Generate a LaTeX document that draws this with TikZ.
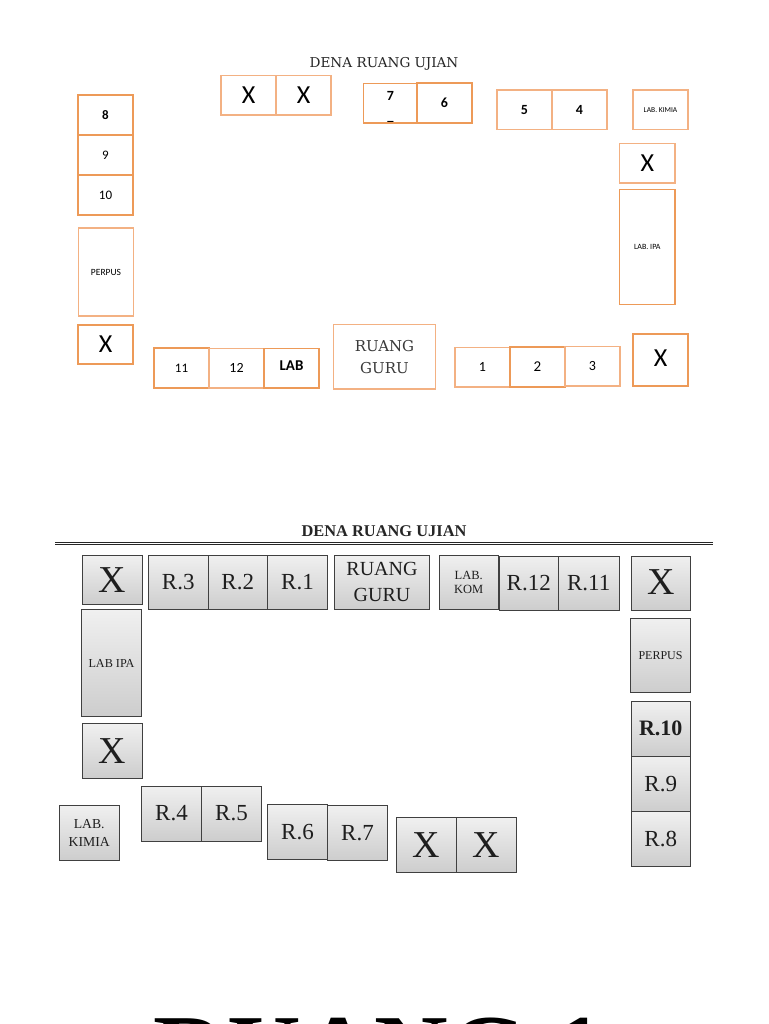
\documentclass[tikz,border=0pt]{standalone}
\usepackage{fontspec}
\setmainfont{Liberation Serif}
\newfontfamily\calibfont{Carlito}
\newfontfamily\slabfont{DejaVu Serif}
\definecolor{orangeA}{HTML}{ED9A58}
\definecolor{orangeB}{HTML}{F3B183}
\definecolor{edgeG}{HTML}{404040}
\definecolor{inkG}{HTML}{1E1E1E}
\definecolor{greyTop}{HTML}{F0F0F0}
\definecolor{greyBot}{HTML}{CDCDCD}
\definecolor{slabInk}{HTML}{3A3A3A}
\tikzset{
  boxbase/.style={rectangle,inner sep=0pt,outer sep=0pt,align=center},
  thick orange/.style={boxbase,draw=orangeA,line width=1.4pt,font=\calibfont,text=black},
  thin orange/.style={boxbase,draw=orangeB,line width=1.1pt,font=\calibfont,text=black},
  grey room/.style={boxbase,draw=edgeG,line width=0.9pt,top color=greyTop,bottom color=greyBot,text=inkG},
}
\newcommand{\room}[7]{%
  \pgfmathsetmacro{\rw}{#4-#2}\pgfmathsetmacro{\rh}{#5-#3}%
  \node[#6,minimum width=\rw pt,minimum height=\rh pt] (#1) at ({(#2+#4)/2},{(#3+#5)/2}) {#7};}
\newcommand{\fs}[1]{\fontsize{#1}{#1}\selectfont}
\begin{document}
\begin{tikzpicture}[x=1pt,y=-1pt]
\useasboundingbox (0,0) rectangle (768,1024);
\clip (0,0) rectangle (768,1024);
\fill[white] (0,0) rectangle (768,1024);
% upper plan
\node[font=\slabfont\fs{13.6},text=black!85] (title1) at (384,64) {DENA RUANG UJIAN};
\room{a8}{78}{95}{133}{135}{thick orange}{\fs{13}\bfseries 8}
\room{a9}{78}{135}{133}{175}{thick orange}{\fs{13}9}
\room{a10}{78}{175}{133}{215}{thick orange}{\fs{13}10}
\room{aperp}{78.5}{228}{133.5}{316}{thin orange}{\fs{9.5}PERPUS}
\room{ax1}{78}{325}{133}{364}{thick orange}{\fs{26}X}
\room{ax2}{221}{75.5}{276}{115}{thin orange}{\fs{26}X}
\room{ax3}{276}{75.5}{331}{115}{thin orange}{\fs{26}X}
\begin{scope}
\clip (363.5,83.5) rectangle (417,123);
\node[font=\calibfont\fs{14}\bfseries,inner sep=0pt] (a7b) at (390.5,96) {7};
\node[font=\calibfont\fs{14}\bfseries,inner sep=0pt,anchor=base] (a7c) at (390.5,131) {7};
\end{scope}
\room{a7}{363.5}{83.5}{417}{123}{thick orange}{}
\room{a6}{417}{83}{472}{123}{thick orange}{\fs{14}\bfseries 6}
\room{a5}{497}{90}{552}{129.5}{thin orange}{\fs{14}\bfseries 5}
\room{a4}{552}{90}{607}{129.5}{thin orange}{\fs{14}\bfseries 4}
\room{akim}{633}{90}{688}{129.5}{thin orange}{\fs{7.5}LAB. KIMIA}
\room{ax4}{619.5}{143.5}{675}{183}{thin orange}{\fs{26}X}
\room{aipa}{619.5}{189.5}{675}{304.5}{thick orange}{\fs{8}LAB. IPA}
\room{ax5}{633}{334}{688}{386}{thick orange}{\raisebox{3pt}{\fs{26}X}}
\room{a1}{455}{347.5}{510}{387}{thin orange}{\fs{14}1}
\room{a2}{510}{347}{565}{387}{thick orange}{\fs{15}2}
\room{a3}{565}{346.5}{620}{386}{thin orange}{\fs{14}3}
\room{aguru}{333.5}{324.5}{435.5}{389}{thin orange,font=\slabfont\fs{15},text=slabInk}{RUANG\\[7pt]GURU}
\room{a11}{154}{348}{209}{388}{thick orange}{\fs{13}11}
\room{a12}{209}{348.5}{264}{388}{thin orange}{\fs{14}12}
\room{alab}{264}{348.5}{319}{388}{thick orange}{\raisebox{5pt}{\fs{15}\bfseries LAB}}
% lower plan
\node[font=\fs{16.4}\bfseries,text=black!85] (title2) at (384,531) {DENA RUANG UJIAN};
\coordinate (ruleL) at (55,542);\coordinate (ruleR) at (713,542);
\coordinate (ruleLb) at (55,544.5);\coordinate (ruleRb) at (713,544.5);
\draw[line width=1pt,black!85] (ruleL) -- (ruleR);
\draw[line width=0.7pt,black!85] (ruleLb) -- (ruleRb);
\room{bx1}{82.5}{555.5}{142}{604}{grey room}{\fs{38}X}
\room{b3}{148.5}{555}{208}{609.5}{grey room}{\fs{23}R.3}
\room{b2}{208}{555}{267.5}{609.5}{grey room}{\fs{23}R.2}
\room{b1}{267.5}{555}{327.5}{609.5}{grey room}{\fs{23}R.1}
\room{bguru}{334.5}{555}{429.5}{609.5}{grey room,font=\fs{20}}{RUANG\\[6pt]GURU}
\room{bkom}{439}{555}{498.5}{609.5}{grey room,font=\fs{12.5}}{LAB.\\[1.5pt]KOM}
\room{b12}{499}{556}{558.5}{610}{grey room}{\fs{23}R.12}
\room{b11}{558.5}{556}{619}{610}{grey room}{\fs{23}R.11}
\room{bx2}{631}{556}{690.5}{610}{grey room}{\raisebox{2pt}{\fs{38}X}}
\room{bperp}{630.5}{618.5}{690.5}{692.5}{grey room}{\fs{12}PERPUS}
\room{b10}{631}{701}{690.5}{756}{grey room}{\fs{22}\bfseries R.10}
\room{b9}{631}{756}{690.5}{811.5}{grey room}{\fs{23}R.9}
\room{b8}{631}{811.5}{690.5}{866}{grey room}{\fs{23}R.8}
\room{bipa}{81.5}{609.5}{141.5}{716.5}{grey room}{\fs{12.2}LAB IPA}
\room{bx3}{82.5}{723.5}{142.5}{778}{grey room}{\fs{38}X}
\room{bkim}{59}{805.5}{119.5}{860}{grey room,font=\fs{13.7}}{LAB.\\[4pt]KIMIA}
\room{b4}{141.5}{786}{201.5}{841}{grey room}{\fs{23}R.4}
\room{b5}{201.5}{786}{261.5}{841}{grey room}{\fs{23}R.5}
\room{b6}{267.5}{804.5}{327.5}{859.5}{grey room}{\fs{23}R.6}
\room{b7}{327.5}{805.5}{387.5}{860.5}{grey room}{\fs{23}R.7}
\room{bx4}{396.5}{817.5}{456.5}{872.5}{grey room}{\fs{38}X}
\room{bx5}{456.5}{817.5}{516.5}{872.5}{grey room}{\fs{38}X}
\node[font=\fs{102}\bfseries,anchor=base,inner sep=0pt] (ruang) at (379,1085) {RUANG 1};
\end{tikzpicture}
\end{document}
